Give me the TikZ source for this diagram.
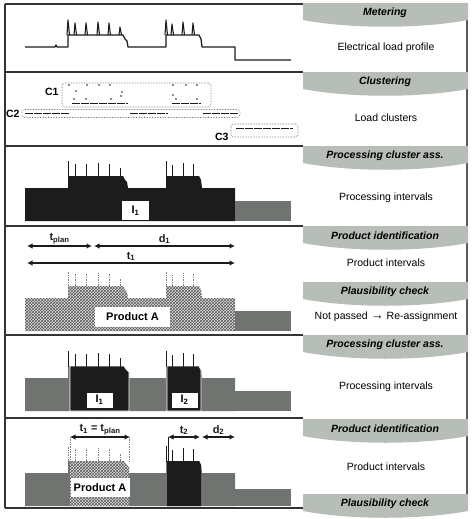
\documentclass[tikz,border=0pt]{standalone}
\usepackage{fontspec}
\setmainfont{Liberation Sans}
\usetikzlibrary{positioning,arrows.meta,patterns}
\definecolor{bannergray}{RGB}{183,190,183}
\definecolor{profgray}{RGB}{112,116,112}
\definecolor{profdark}{RGB}{28,28,28}
\newcommand{\plateau}{(25,80) -- (25,47) -- (68,47) -- (68,35) -- (123,35) -- (125,39) -- (127,41) -- (128,47) -- (166,47) -- (166,35) -- (199,35) -- (201,39) -- (202,47) -- (235,47) -- (235,80) -- cycle}
\newcommand{\lowpart}{(235,60) rectangle (291,80)}
\newcommand{\humpone}{(70,80) -- (70,35) -- (124,35) -- (126,38) -- (129,41) -- (129,80) -- cycle}
\newcommand{\humptwo}{(167,80) -- (167,35) -- (199,35) -- (201,39) -- (201,80) -- cycle}
\newcommand{\spikesone}{68/20,75/23,86/23,98/22,109/23,120/27}
\newcommand{\spikestwo}{166/20,172/24,183/22,193/23}
\newcommand{\banner}[3]{%
  \fill[bannergray] (303,#1) -- (468,#1) -- (468,#1+17) .. controls (420,#1+26) and (350,#1+26) .. (303,#1+17) -- cycle;
  \node[bannertext] (#2) at (385,#1+10) {#3};}
\begin{document}
\begin{tikzpicture}
  [x=1pt,y=-1pt,
   frame/.style={draw=black!80,line width=1.2pt},
   bannertext/.style={font=\bfseries\itshape\fontsize{10.5}{12}\selectfont,inner sep=0pt},
   result/.style={font=\fontsize{10.5}{12}\selectfont,inner sep=0pt},
   dim/.style={{Latex[length=5.5pt,width=5.5pt]}-{Latex[length=5.5pt,width=5.5pt]},line width=1.1pt,profdark},
   dimlabel/.style={font=\bfseries\fontsize{11}{12}\selectfont,inner sep=1.5pt},
   whitebox/.style={fill=white,inner sep=0pt,font=\bfseries\fontsize{11}{12}\selectfont},
   clusterbox/.style={draw=black!60,densely dotted,rounded corners=3pt,line width=0.6pt,inner sep=0pt},
   clusterlabel/.style={font=\bfseries\fontsize{10.5}{12}\selectfont,inner sep=0pt},
   clusterdash/.style={line width=0.8pt,profdark,dash pattern=on 8pt off 1pt},
   spike/.style={line width=0.9pt,profdark},
   softspike/.style={line width=0.7pt,gray,densely dotted},
   hatched/.style={pattern=crosshatch,pattern color=gray!70!black}]
  \fill[white] (0,0) rectangle (474,519);
  \useasboundingbox (0,0) rectangle (474,519);

  \draw[frame] (5,4) -- (5,508);
  \draw[frame,draw=black!65] (467,4) -- (467,508);
  \foreach \y in {4,72,146,226,335,418,508}
    \draw[frame] (5,\y) -- (303,\y);

  \banner{3}{metering}{Metering}
  \banner{72}{clustering}{Clustering}
  \banner{146}{procA}{Processing cluster ass.}
  \banner{226}{prodidA}{Product identification}
  \banner{282}{plausA}{Plausibility check}
  \banner{335}{procB}{Processing cluster ass.}
  \banner{419}{prodidB}{Product identification}
  \banner{494}{plausB}{Plausibility check}

  \node[result] (loadprofile) at (386,48) {Electrical load profile};
  \node[result] (loadclusters) at (386,118) {Load clusters};
  \node[result] (procintA) at (386,198) {Processing intervals};
  \node[result] (prodintA) at (386,263) {Product intervals};
  \node[result] (notpassed) at (386,317) {Not passed {\fontsize{13}{12}\selectfont→} Re-assignment};
  \node[result] (procintB) at (386,387) {Processing intervals};
  \node[result] (prodintB) at (386,467) {Product intervals};

  \draw[line width=1.3pt,profdark,line join=round] (25,47) -- (55,47) -- (56,45) -- (57,47) -- (68,47) -- (68,35) -- (123,35) -- (125,39) -- (127,41) -- (128,47) -- (166,47) -- (166,35) -- (199,35) -- (201,39) -- (202,47) -- (235,47) -- (235,60) -- (291,60);
  \foreach \x/\t in \spikesone
    \draw[line width=1.1pt,profdark,line join=round] (\x-1,35) -- (\x,\t) -- (\x+1.5,35);
  \foreach \x/\t in \spikestwo
    \draw[line width=1.1pt,profdark,line join=round] (\x-1,35) -- (\x,\t) -- (\x+1.5,35);

  \node[clusterbox,minimum width=149pt,minimum height=24pt] (c1) at (136.5,95) {};
  \node[clusterbox,minimum width=218pt,minimum height=8pt] (c2) at (131,113.5) {};
  \node[clusterbox,minimum width=67pt,minimum height=13pt] (c3) at (264.5,130.5) {};
  \node[clusterlabel,left=3pt of c1.west,yshift=3pt] (c1lbl) {C1};
  \node[clusterlabel,left=2pt of c2.west] (c2lbl) {C2};
  \node[clusterlabel,left=2pt of c3.south west] (c3lbl) {C3};
  \draw[clusterdash] (72,103) -- (128,103) (172,103) -- (201,103);
  \draw[clusterdash] (25,113.5) -- (70,113.5) (130,113.5) -- (168,113.5) (203,113.5) -- (238,113.5);
  \draw[clusterdash] (236,128) -- (293,128);
  \foreach \x/\y in {69/85,87/85,99/85,110/85,76/91,122/92,121/96,74/99,86/99,111/99,173/85,186/85,197/85,173/95,176/99,197/99}
    \fill[profdark] (\x,\y) circle (0.8pt);

  \begin{scope}[shift={(0,141)}]
    \fill[profdark] \plateau;
    \fill[profgray] \lowpart;
    \foreach \x/\t in \spikesone {\draw[spike] (\x,36) -- (\x,\t);}
    \foreach \x/\t in \spikestwo {\draw[spike] (\x,36) -- (\x,\t);}
    \node[whitebox,minimum width=27pt,minimum height=19pt] (ioneA) at (135.5,69.5) {I\textsubscript{1}};
  \end{scope}

  \coordinate (tplanL) at (27,246);
  \coordinate (tplanR) at (92,246);
  \coordinate (doneL) at (94,246);
  \coordinate (doneR) at (235,246);
  \coordinate (toneL) at (27,263);
  \coordinate (toneR) at (235,263);
  \draw[dim] (tplanL) -- (tplanR) node[dimlabel,midway,above] (tplan) {t\textsubscript{plan}};
  \draw[dim] (doneL) -- (doneR) node[dimlabel,midway,above] (done) {d\textsubscript{1}};
  \draw[dim] (toneL) -- (toneR) node[dimlabel,midway,above] (tone) {t\textsubscript{1}};

  \begin{scope}[shift={(0,251)}]
    \fill[gray!25] \plateau;
    \fill[hatched] \plateau;
    \fill[profgray] \lowpart;
    \foreach \x/\t in \spikesone {\draw[softspike] (\x,35) -- (\x,\t);}
    \foreach \x/\t in \spikestwo {\draw[softspike] (\x,35) -- (\x,\t);}
    \node[whitebox,minimum width=75pt,minimum height=20pt] (prodA) at (132.5,66) {Product A};
  \end{scope}

  \begin{scope}[shift={(0,331)}]
    \fill[profgray] \plateau;
    \fill[profgray] \lowpart;
    \filldraw[fill=profdark,draw=white,line width=0.8pt] \humpone;
    \filldraw[fill=profdark,draw=white,line width=0.8pt] \humptwo;
    \foreach \x/\t in \spikesone {\draw[spike] (\x,36) -- (\x,\t);}
    \foreach \x/\t in \spikestwo {\draw[spike] (\x,36) -- (\x,\t);}
    \node[whitebox,draw=profdark,minimum width=27pt,minimum height=16pt] (ioneB) at (99.5,69) {I\textsubscript{1}};
    \node[whitebox,draw=profdark,minimum width=27pt,minimum height=16pt] (itwo) at (184.5,69) {I\textsubscript{2}};
  \end{scope}

  \begin{scope}[shift={(0,426)}]
    \fill[profgray] \plateau;
    \fill[profgray] (235,63) rectangle (291,80);
    \fill[gray!25] \humpone;
    \fill[hatched] \humpone;
    \fill[profdark] \humptwo;
    \foreach \x/\t in \spikesone {\draw[softspike] (\x,35) -- (\x,\t);}
    \foreach \x/\t in \spikestwo {\draw[spike] (\x,36) -- (\x,\t);}
    \draw[softspike] (70,11) -- (70,35) (129,11) -- (129,35);
    \draw[spike,line width=0.7pt] (168,11) -- (168,36);
    \node[whitebox,minimum width=59pt,minimum height=19pt] (prodAB) at (100,61.5) {Product A};
  \end{scope}

  \coordinate (tpL) at (70,437);
  \coordinate (tpR) at (130,437);
  \coordinate (ttwoL) at (168,437);
  \coordinate (ttwoR) at (200,437);
  \coordinate (dtwoL) at (202,437);
  \coordinate (dtwoR) at (235,437);
  \draw[dim] (tpL) -- (tpR) node[dimlabel,midway,above] (toneplan) {t\textsubscript{1} = t\textsubscript{plan}};
  \draw[dim] (ttwoL) -- (ttwoR) node[dimlabel,midway,above] (ttwo) {t\textsubscript{2}};
  \draw[dim] (dtwoL) -- (dtwoR) node[dimlabel,midway,above] (dtwo) {d\textsubscript{2}};
\end{tikzpicture}
\end{document}
